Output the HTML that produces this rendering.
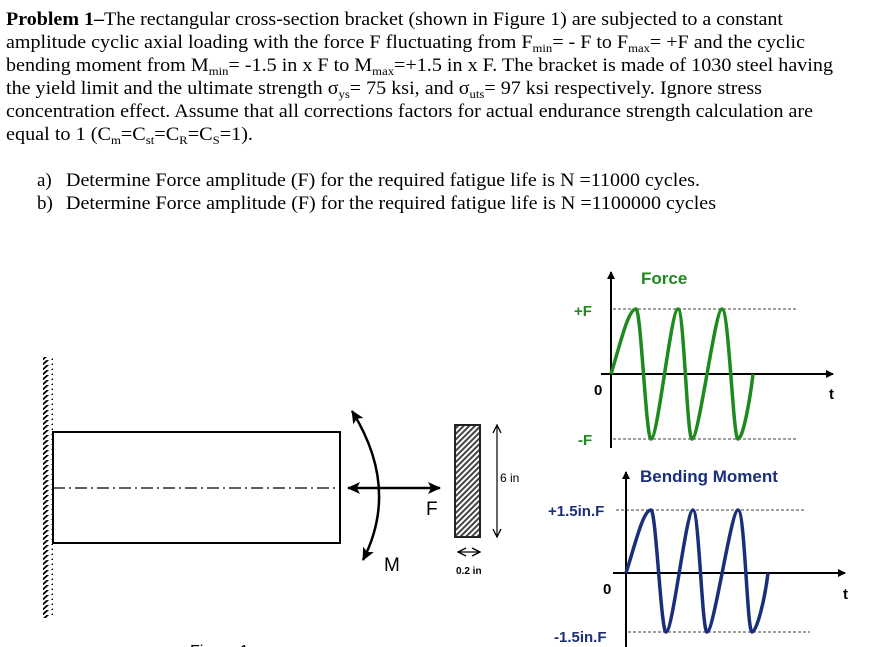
<!DOCTYPE html>
<html><head><meta charset="utf-8"><style>
html,body{margin:0;padding:0;background:#fff;width:873px;height:647px;overflow:hidden}
svg{display:block}
.t{font-family:"Liberation Serif",serif;font-size:19px;fill:#000}
.s{font-size:12px}
.g{font-family:"Liberation Sans",sans-serif;font-weight:bold}
</style></head><body>
<svg width="873" height="647" viewBox="0 0 873 647" xmlns="http://www.w3.org/2000/svg">
<defs>
<pattern id="h" width="4" height="4" patternUnits="userSpaceOnUse" patternTransform="rotate(45)">
<rect width="4" height="4" fill="#fff"/><rect width="2" height="4" fill="#444"/></pattern>
<pattern id="w" width="10" height="5" patternUnits="userSpaceOnUse">
<rect width="10" height="5" fill="#fff"/><line x1="0" y1="7" x2="10" y2="-2" stroke="#000" stroke-width="1.8"/></pattern>
<marker id="a" markerWidth="8" markerHeight="8" refX="7" refY="4" orient="auto-start-reverse" markerUnits="userSpaceOnUse"><path d="M0,0 L8,4 L0,8 z" fill="#000"/></marker>
<marker id="o" markerWidth="10" markerHeight="10" refX="9" refY="5" orient="auto-start-reverse" markerUnits="userSpaceOnUse"><path d="M1,1 L9,5 L1,9" fill="none" stroke="#000" stroke-width="1.3"/></marker>
<marker id="b" markerWidth="14" markerHeight="12" refX="12" refY="6" orient="auto-start-reverse" markerUnits="userSpaceOnUse"><path d="M0,0 L13,6 L0,12 L3,6 z" fill="#000"/></marker>
</defs>

<text class="t" x="6" y="25" textLength="777" lengthAdjust="spacingAndGlyphs"><tspan font-weight="bold">Problem 1–</tspan>The rectangular cross-section bracket (shown in Figure 1) are subjected to a constant</text>
<text class="t" x="6" y="48" textLength="799" lengthAdjust="spacingAndGlyphs">amplitude cyclic axial loading with the force F fluctuating from F<tspan class="s" dy="4">min</tspan><tspan dy="-4">= - F to F</tspan><tspan class="s" dy="4">max</tspan><tspan dy="-4">= +F and the cyclic</tspan></text>
<text class="t" x="6" y="71" textLength="827" lengthAdjust="spacingAndGlyphs">bending moment from M<tspan class="s" dy="4">min</tspan><tspan dy="-4">= -1.5 in x F to M</tspan><tspan class="s" dy="4">max</tspan><tspan dy="-4">=+1.5 in x F. The bracket is made of 1030 steel having</tspan></text>
<text class="t" x="6" y="94" textLength="756" lengthAdjust="spacingAndGlyphs">the yield limit and the ultimate strength σ<tspan class="s" dy="4">ys</tspan><tspan dy="-4">= 75 ksi, and σ</tspan><tspan class="s" dy="4">uts</tspan><tspan dy="-4">= 97 ksi respectively. Ignore stress</tspan></text>
<text class="t" x="6" y="117" textLength="807" lengthAdjust="spacingAndGlyphs">concentration effect. Assume that all corrections factors for actual endurance strength calculation are</text>
<text class="t" x="6" y="140" textLength="247" lengthAdjust="spacingAndGlyphs">equal to 1 (C<tspan class="s" dy="4">m</tspan><tspan dy="-4">=C</tspan><tspan class="s" dy="4">st</tspan><tspan dy="-4">=C</tspan><tspan class="s" dy="4">R</tspan><tspan dy="-4">=C</tspan><tspan class="s" dy="4">S</tspan><tspan dy="-4">=1).</tspan></text>

<text class="t" x="37" y="186">a)</text>
<text class="t" x="66" y="186" textLength="634" lengthAdjust="spacingAndGlyphs">Determine Force amplitude (F) for the required fatigue life is N =11000 cycles.</text>
<text class="t" x="37" y="209">b)</text>
<text class="t" x="66" y="209" textLength="650" lengthAdjust="spacingAndGlyphs">Determine Force amplitude (F) for the required fatigue life is N =1100000 cycles</text>

<!-- wall -->
<rect x="43" y="357" width="10" height="261" fill="url(#w)"/>
<!-- bar -->
<rect x="53" y="432" width="287" height="111" fill="none" stroke="#000" stroke-width="2"/>
<line x1="53" y1="488" x2="340" y2="488" stroke="#000" stroke-width="1.3" stroke-dasharray="12,4,2,4"/>
<!-- F arrow -->
<line x1="348" y1="488" x2="440" y2="488" stroke="#000" stroke-width="2.5" marker-start="url(#b)" marker-end="url(#b)"/>
<!-- M arc -->
<path d="M352,411 Q400,488 363,560" fill="none" stroke="#000" stroke-width="2.5" marker-start="url(#b)" marker-end="url(#b)"/>
<text x="426" y="515" font-family="Liberation Sans,sans-serif" font-size="19">F</text>
<text x="384" y="571" font-family="Liberation Sans,sans-serif" font-size="19">M</text>
<!-- cross section -->
<rect x="455" y="425" width="25" height="112" fill="url(#h)" stroke="#222" stroke-width="2"/>
<line x1="497" y1="425" x2="497" y2="537" stroke="#000" stroke-width="1.2" marker-start="url(#o)" marker-end="url(#o)"/>
<text x="500" y="482" font-family="Liberation Sans,sans-serif" font-size="12">6 in</text>
<line x1="458" y1="552" x2="480" y2="552" stroke="#000" stroke-width="1.2" marker-start="url(#o)" marker-end="url(#o)"/>
<text x="456" y="574" font-family="Liberation Sans,sans-serif" font-size="10" font-weight="bold">0.2 in</text>
<text x="190" y="656" font-family="Liberation Sans,sans-serif" font-size="16">Figure 1</text>

<!-- Force chart -->
<line x1="613" y1="309" x2="797" y2="309" stroke="#000" stroke-width="0.8" stroke-dasharray="3,2"/>
<line x1="613" y1="439" x2="797" y2="439" stroke="#000" stroke-width="0.8" stroke-dasharray="3,2"/>
<line x1="611" y1="448" x2="611" y2="272" stroke="#000" stroke-width="2" marker-end="url(#a)"/>
<line x1="601" y1="374" x2="833" y2="374" stroke="#000" stroke-width="2" marker-end="url(#a)"/>
<path d="M611,374 C620,345 628,309 636,309 C641,309 646,439 651,439 C658,439 671,309 678,309 C684,309 687,439 692,439 C699,439 715,309 722,309 C729,309 733,439 738,439 C743,439 750,400 753,374" fill="none" stroke="#1e8a1e" stroke-width="3.5"/>
<text class="g" x="641" y="284" font-size="17" fill="#1e8a1e">Force</text>
<text class="g" x="574" y="316" font-size="15" fill="#1e8a1e">+F</text>
<text class="g" x="578" y="445" font-size="15" fill="#1e8a1e">-F</text>
<text class="g" x="594" y="395" font-size="15">0</text>
<text class="g" x="829" y="399" font-size="15">t</text>

<!-- Bending chart -->
<line x1="616" y1="510" x2="805" y2="510" stroke="#000" stroke-width="0.8" stroke-dasharray="3,2"/>
<line x1="628" y1="632" x2="810" y2="632" stroke="#000" stroke-width="0.8" stroke-dasharray="3,2"/>
<line x1="626" y1="647" x2="626" y2="472" stroke="#000" stroke-width="2" marker-end="url(#a)"/>
<line x1="613" y1="573" x2="845" y2="573" stroke="#000" stroke-width="2" marker-end="url(#a)"/>
<path d="M626,573 C635,545 643,510 651,510 C656,510 661,632 666,632 C673,632 686,510 693,510 C699,510 702,632 707,632 C714,632 731,510 738,510 C745,510 747,632 752,632 C757,632 765,598 768,573" fill="none" stroke="#1a2f7a" stroke-width="3.5"/>
<text class="g" x="640" y="482" font-size="17" fill="#1a2f7a">Bending Moment</text>
<text class="g" x="548" y="516" font-size="15" fill="#1a2f7a">+1.5in.F</text>
<text class="g" x="554" y="642" font-size="15" fill="#1a2f7a">-1.5in.F</text>
<text class="g" x="603" y="594" font-size="15">0</text>
<text class="g" x="843" y="599" font-size="15">t</text>
</svg>
</body></html>
